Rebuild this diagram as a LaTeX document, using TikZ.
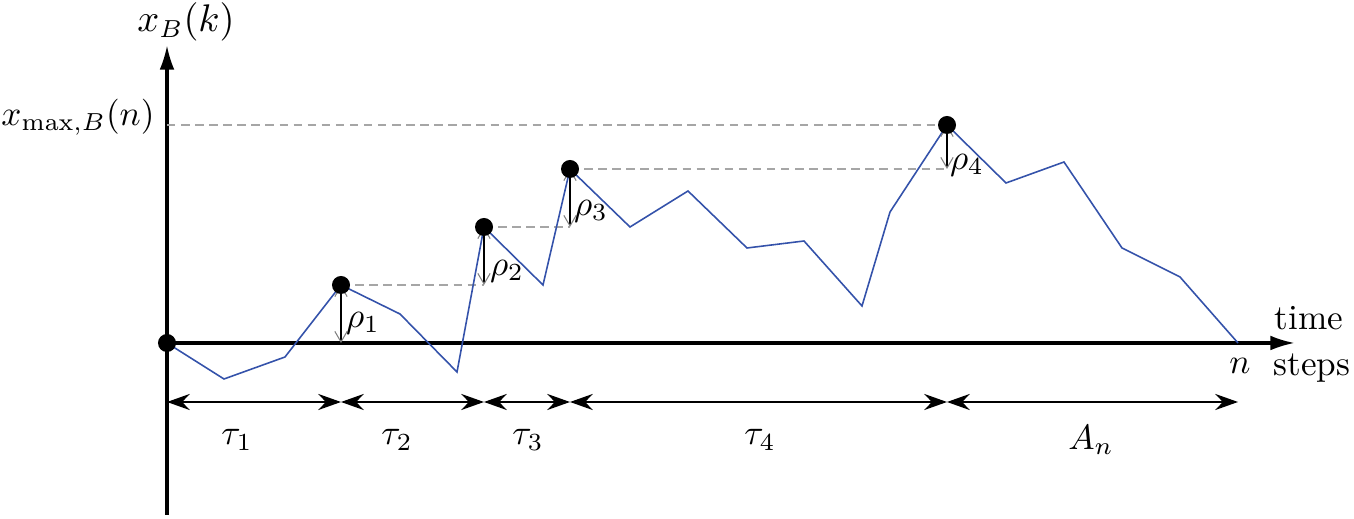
\documentclass[tikz,border=0pt]{standalone}
\usetikzlibrary{arrows.meta}
\definecolor{curveblue}{RGB}{52,82,170}
\tikzset{
  axis/.style={line width=0.9pt,-{Latex[length=7pt,width=4.2pt]}},
  curve/.style={curveblue,line width=0.45pt,line join=miter},
  guide/.style={gray!70,dashed,dash pattern=on 2.4pt off 1.6pt,line width=0.4pt},
  rhoarrow/.style={line width=0.35pt,{Straight Barb[length=3pt,width=3.5pt,line width=0.3pt,gray]}-{Straight Barb[length=3pt,width=3.5pt,line width=0.3pt,gray]}},
  tauarrow/.style={line width=0.45pt,{Stealth[length=6.5pt,width=4.6pt,inset=2.2pt]}-{Stealth[length=6.5pt,width=4.6pt,inset=2.2pt]}},
  dot/.style={circle,fill=black,inner sep=0pt,minimum size=0.18cm},
}
\begin{document}
\begin{tikzpicture}[x=0.01cm,y=-0.01cm]
\useasboundingbox (0,0) rectangle (1354,519);
% axes
\coordinate (vbot) at (167,515);
\coordinate (vtop) at (167,45);
\coordinate (hend) at (1295,343);
\draw[axis] (vbot) -- (vtop);
% points
\coordinate (p0) at (167,343);
\coordinate (p1) at (224,379);
\coordinate (p2) at (285,357);
\coordinate (p3) at (341,285);
\coordinate (p4) at (400,314);
\coordinate (p5) at (457,372);
\coordinate (p6) at (484,227);
\coordinate (p7) at (543,285);
\coordinate (p8) at (570,169);
\coordinate (p9) at (630,227);
\coordinate (p10) at (688,191);
\coordinate (p11) at (747,248);
\coordinate (p12) at (804,241);
\coordinate (p13) at (862,306);
\coordinate (p14) at (890,212);
\coordinate (p15) at (947,125);
\coordinate (p16) at (1006,183);
\coordinate (p17) at (1064,162);
\coordinate (p18) at (1122,248);
\coordinate (p19) at (1180,277);
\coordinate (p20) at (1238,343);
% dashed guides
\coordinate (ymax) at (167,125);
\coordinate (r1b) at (341,343);
\coordinate (r2b) at (484,285);
\coordinate (r3b) at (570,227);
\coordinate (r4b) at (947,169);
\draw[guide] (ymax) -- (p15);
\draw[guide] (p3) -- (r2b);
\draw[guide] (p6) -- (r3b);
\draw[guide] (p8) -- (r4b);
% horizontal axis
\draw[axis] (p0) -- (hend);
% curve
\draw[curve] (p0) -- (p1) -- (p2) -- (p3) -- (p4) -- (p5) -- (p6) -- (p7) -- (p8) -- (p9) -- (p10) -- (p11) -- (p12) -- (p13) -- (p14) -- (p15) -- (p16) -- (p17) -- (p18) -- (p19) -- (p20);
% rho arrows
\draw[rhoarrow] (p3) -- (r1b);
\draw[rhoarrow] (p6) -- (r2b);
\draw[rhoarrow] (p8) -- (r3b);
\draw[rhoarrow] (p15) -- (r4b);
% dots
\node[dot] (d0) at (p0) {};
\node[dot] (d1) at (p3) {};
\node[dot] (d2) at (p6) {};
\node[dot] (d3) at (p8) {};
\node[dot] (d4) at (p15) {};
% tau arrows
\coordinate (t0) at (167,402);
\coordinate (t1) at (341,402);
\coordinate (t2) at (484,402);
\coordinate (t3) at (570,402);
\coordinate (t4) at (947,402);
\coordinate (t5) at (1238,402);
\draw[tauarrow] (t0) -- (t1);
\draw[tauarrow] (t1) -- (t2);
\draw[tauarrow] (t2) -- (t3);
\draw[tauarrow] (t3) -- (t4);
\draw[tauarrow] (t4) -- (t5);
% labels
\node[font=\fontsize{10.5}{12}\selectfont] (lxb) at (186,22) {$x_B(k)$};
\node (lxmax) at (78,117) {$x_{\max,B}(n)$};
\node (lr1) at (363,323) {$\rho_1$};
\node (lr2) at (507,271) {$\rho_2$};
\node (lr3) at (591,211) {$\rho_3$};
\node (lr4) at (967,165) {$\rho_4$};
\node (lt1) at (237,440) {$\tau_1$};
\node (lt2) at (397,440) {$\tau_2$};
\node (lt3) at (528,440) {$\tau_3$};
\node (lt4) at (760,440) {$\tau_4$};
\node (lan) at (1091,440) {$A_n$};
\node (ln) at (1240,366) {$n$};
\node (ltime) at (1309,318) {time};
\node (lsteps) at (1312,368) {steps};
\end{tikzpicture}
\end{document}
